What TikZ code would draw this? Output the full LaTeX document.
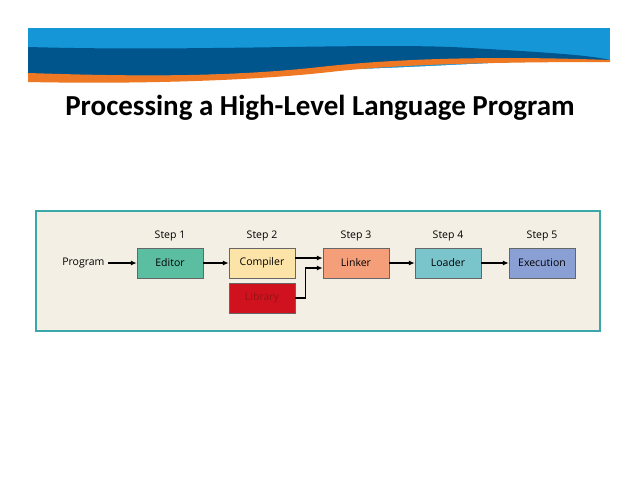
\documentclass[tikz,border=0pt]{standalone}
\usepackage{fontspec}
\setmainfont{Open Sans}
\newfontfamily\titlefont{Carlito}
\usetikzlibrary{arrows.meta}
\begin{document}
\begin{tikzpicture}[x=1pt,y=-1pt,
  box/.style={draw=black!60,line width=0.4pt,minimum width=66pt,minimum height=30pt,font=\fontsize{10.5}{12}\selectfont,inner sep=0pt},
  lab/.style={font=\fontsize{10.5}{12}\selectfont},
  arr/.style={-{Latex[length=6pt,width=5pt]},line width=1.2pt}]
\useasboundingbox (0,0) rectangle (638,493);
% banner
\fill[color={rgb,255:red,20;green,150;blue,215}] (28,28) rectangle (610,82);
\fill[white] (28,82) -- (28,84) -- (610,84) -- (610,60) .. controls (500,60) and (400,70) .. (300,70) .. controls (200,75) and (100,82) .. (28,82);
\fill[color={rgb,255:red,0;green,85;blue,140}] (28,47) .. controls (200,52) and (380,42) .. (470,48) .. controls (540,52) and (590,55) .. (610,60) -- (610,61) .. controls (500,58) and (400,62) .. (320,68) .. controls (220,78) and (120,76) .. (28,74) -- cycle;
\fill[color={rgb,255:red,238;green,120;blue,35}] (28,73) .. controls (120,76) and (220,78) .. (320,67) .. controls (400,58) and (500,56) .. (610,60) -- (610,62) .. controls (500,62) and (400,64) .. (330,72) .. controls (240,82) and (120,84) .. (28,82) -- cycle;
\node[font=\titlefont\bfseries\fontsize{29}{32}\selectfont] (title) at (320,108) {Processing a High-Level Language Program};
% frame
\draw[fill={rgb,255:red,244;green,239;blue,228},draw={rgb,255:red,58;green,168;blue,168},line width=1.5pt] (36,211) rectangle (600,331);
\node[box,fill={rgb,255:red,92;green,190;blue,160}] (ed) at (170,263) {Editor};
\node[box,fill={rgb,255:red,252;green,228;blue,168}] (co) at (262,263) {Compiler};
\node[box,fill={rgb,255:red,208;green,17;blue,30},text={rgb,255:red,150;green,20;blue,20}] (li) at (262,298) {Library};
\node[box,fill={rgb,255:red,244;green,158;blue,122}] (lk) at (356,263) {Linker};
\node[box,fill={rgb,255:red,122;green,196;blue,204}] (lo) at (448,263) {Loader};
\node[box,fill={rgb,255:red,138;green,160;blue,212}] (ex) at (542,263) {Execution};
\node[lab,anchor=east] (pr) at (108,263) {Program};
\foreach \n/\s in {ed/1,co/2,lk/3,lo/4,ex/5}
  \node[lab] (s\n) at ([yshift=12pt]\n.north) {Step \s};
\draw[arr] (pr) -- (ed);
\draw[arr] (ed) -- (co);
\draw[arr] (co.east |- 0,258) -- (lk.west |- 0,258);
\draw[arr] (li.east) -- ++(10,0) |- (lk.west |- 0,268);
\draw[arr] (lk) -- (lo);
\draw[arr] (lo) -- (ex);
\end{tikzpicture}
\end{document}
